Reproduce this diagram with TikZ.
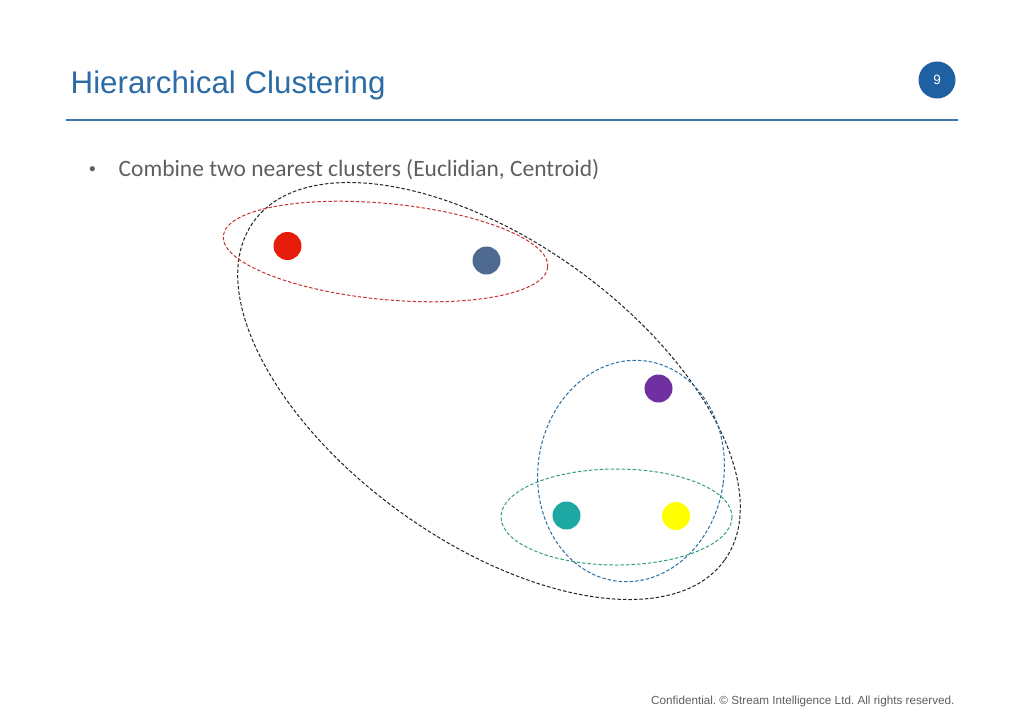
\documentclass[tikz,border=0pt]{standalone}
\usepackage{fontspec}
\usepackage{tikz}
\usepackage{xcolor}
\setmainfont{Liberation Sans}
\newfontfamily\bodyfont{Carlito}
\frenchspacing
\definecolor{titleblue}{RGB}{44,108,166}
\definecolor{ruleblue}{RGB}{62,118,170}
\definecolor{badgeblue}{RGB}{30,96,162}
\definecolor{textgray}{RGB}{95,95,95}
\definecolor{dotred}{RGB}{232,28,10}
\definecolor{dotslate}{RGB}{78,106,145}
\definecolor{dotpurple}{RGB}{112,48,160}
\definecolor{dotteal}{RGB}{30,168,164}
\definecolor{dotyellow}{RGB}{255,255,0}
\definecolor{lnred}{RGB}{200,50,50}
\definecolor{lnblack}{RGB}{35,35,40}
\definecolor{lnblue}{RGB}{40,112,165}
\definecolor{lngreen}{RGB}{50,160,125}

\begin{document}
\begin{tikzpicture}[x=1pt,y=-1pt,
  dot/.style={circle,inner sep=0pt,minimum size=28pt},
  cluster/.style={line width=1pt,dash pattern=on 3.5pt off 2pt}]
\useasboundingbox[fill=white] (0,0) rectangle (1024,709);
\node [anchor=base west,inner sep=0pt,text=titleblue,font=\fontsize{31.3}{36}\selectfont] (title) at (70.5,93) {Hierarchical Clustering};
\node [circle,fill=badgeblue,minimum size=37pt,inner sep=0pt,text=white,font=\fontsize{13.5}{16}\selectfont] (page) at (937,80) {9};
\draw [ruleblue,line width=2pt] (66,119.5) -- (958,119.5);
\node [anchor=base,inner sep=0pt,text=textgray,font=\fontsize{19}{22}\selectfont] (bullet) at (92.5,175.5) {•};
\node [anchor=base west,inner sep=0pt,text=textgray,font=\bodyfont\fontsize{23.45}{28}\selectfont] (point) at (118.5,176) {Combine two nearest clusters (Euclidian, Centroid)};
\draw [cluster,lnblack,rotate around={-35.7:(489,391)}] (489,391) ellipse [x radius=290, y radius=150];
\draw [cluster,lnred,rotate around={-5.5:(385.5,251.5)}] (385.5,251.5) ellipse [x radius=163, y radius=48];
\draw [cluster,lnblue,rotate around={-8:(631,471)}] (631,471) ellipse [x radius=93, y radius=111];
\draw [cluster,lngreen] (616.5,517) ellipse [x radius=115.5, y radius=48];
\node [dot,fill=dotred] (red) at (287.5,246) {};
\node [dot,fill=dotslate] (slate) at (486.5,260.5) {};
\node [dot,fill=dotpurple] (purple) at (658.5,388.5) {};
\node [dot,fill=dotteal] (teal) at (566.5,515.5) {};
\node [dot,fill=dotyellow] (yellow) at (676,516) {};
\node [anchor=base west,inner sep=0pt,text=textgray,font=\fontsize{11.7}{14}\selectfont] (footer) at (651,704) {Confidential. © Stream Intelligence Ltd. All rights reserved.};
\end{tikzpicture}
\end{document}
